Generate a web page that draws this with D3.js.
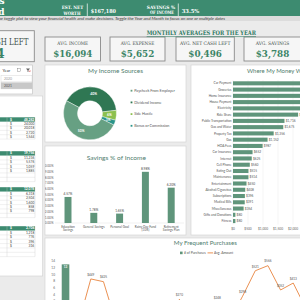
<!DOCTYPE html>
<html>
<head>
<meta charset="utf-8">
<script src="https://cdn.jsdelivr.net/npm/d3@7"></script>
<style>
  html, body { margin: 0; padding: 0; background: #ebebeb; overflow: hidden; }
  svg { display: block; }
</style>
</head>
<body>
<div id="chart"></div>
<script>
// ---- data ----
const kpiLabels = ["AVG. INCOME", "AVG. EXPENSE", "AVG. NET CASH LEFT", "AVG. SAVINGS"];
const kpiValues = ["$16,094", "$5,652", "$0,496", "$3,788"];

const yearOptions = ["2020", "2021"];

const tableRows = [
  [24000, 20018, 2720, 1544],
  [11236, 5576, 1059, 1885],
  [6318, 2504, 1600, 858, 798],
  [1218, 776, 396, 316]
];
const tableBlanks = [0, 2, 1, 2];

const incomeSources = ["Paycheck From Employer", "Dividend Income", "Side Hustle", "Bonus or Commission"];
const incomeShares = [50, 40, 6, 3];
const incomeColors = ["#67a083", "#2f7753", "#8cc04f", "#2b958a"];
const pieOrder = [1, 2, 3, 0];

const savingsGoals = ["Education Savings", "General Savings", "Personal Goal", "Rainy Day Fund (10%)", "Retirement Savings Plan"];
const savingsPct = [4.57, 1.78, 1.65, 8.98, 6.20];

const expenseCats = ["Car Payment", "Groceries", "Home Insurance", "House Payment", "Electricity", "Ride Share",
  "Public Transportation", "Gas and Water", "Property Tax", "Gas", "HOA Fees", "Car Insurance", "Internet",
  "Cell Phone", "Eating Out", "Maintenance", "Entertainment", "Alcohol/Cigarettes", "Subscriptions",
  "Medical Bills", "Miscellaneous", "Gifts and Donations", "Fitness"];
const expenseVals = [3200, 3000, 2800, 2600, 2400, 2170, 1716, 1675, 1356, 1152, 987, 652, 625,
  560, 515, 514, 450, 408, 396, 391, 354, 80, 80];

const purchaseItems = ["Coffee", "Lunch", "Amazon", "Target", "Uber", "Gas Station", "Pharmacy", "Bakery",
  "Books", "Clothing", "Movies", "Snacks", "Hardware", "Pet Store", "Electronics", "Furniture",
  "Travel", "Concerts", "Gifts", "Salon"];
const purchaseCounts = [13, 2, 1, 1, 2, 1, 1, 2, 1, 1, 1, 2, 1, 1, 1, 1, 1, 1, 1, 1];
const purchaseAvg = [62, 47, 449, 425, 62, 75, 85, 90, 70, 270, 80, 95, 248, 90, 298, 521, 566, 352, 413, 190];

// ---- setup ----
const W = 300, H = 300;
const teal = "#3d8b70", barGreen = "#5f957b", titleColor = "#4f7d6e";
const serif = "'DejaVu Serif', serif";

const svg = d3.select("#chart").append("svg")
  .attr("width", W).attr("height", H)
  .style("font-family", "Lato, 'Open Sans', sans-serif");

svg.append("rect").attr("width", W).attr("height", H).attr("fill", "#ebebeb");

function label(g, x, y, s, o = {}) {
  const t = g.append("text").attr("x", x).attr("y", y).text(s)
    .attr("font-size", o.size || 4)
    .attr("fill", o.color || "#555")
    .attr("text-anchor", o.anchor || "start");
  if (o.weight) t.attr("font-weight", o.weight);
  if (o.family) t.attr("font-family", o.family);
  if (o.style) t.attr("font-style", o.style);
  if (o.len) t.attr("textLength", o.len).attr("lengthAdjust", "spacingAndGlyphs");
  return t;
}

function panel(id, x, y, w, h) {
  svg.append("clipPath").attr("id", id)
    .append("rect").attr("x", x).attr("y", y).attr("width", w).attr("height", h);
  svg.append("rect").attr("x", x).attr("y", y).attr("width", w).attr("height", h)
    .attr("fill", "#fff").attr("stroke", "#cfcfcf").attr("stroke-width", 0.6);
  return svg.append("g").attr("clip-path", `url(#${id})`);
}

function wrap(s, max) {
  const lines = [];
  s.split(" ").forEach(w => {
    const last = lines[lines.length - 1];
    if (last && (last + " " + w).length <= max) lines[lines.length - 1] = last + " " + w;
    else lines.push(w);
  });
  return lines;
}

// ---- header ----
function drawHeader() {
  svg.append("rect").attr("width", W).attr("height", 16).attr("fill", teal);
  svg.append("rect").attr("y", 16).attr("width", W).attr("height", 5).attr("fill", "#dcdcdc");

  const white = { color: "#fff", weight: "bold", family: serif };
  label(svg, 4.5, 4, "Finances", { ...white, size: 9, anchor: "end" });
  label(svg, 4.5, 14.5, "Dashboard", { ...white, size: 9, anchor: "end" });

  label(svg, 72.5, 9, "EST. NET", { ...white, size: 4.6, anchor: "middle", len: 21.6 });
  label(svg, 72, 14.6, "WORTH", { ...white, size: 4.6, anchor: "middle", len: 17 });
  svg.append("line").attr("x1", 87.3).attr("x2", 87.3).attr("y1", 3.5).attr("y2", 16)
    .attr("stroke", "#fff").attr("stroke-width", 0.7);
  label(svg, 90.7, 12.6, "$167,180", { ...white, size: 5.5, len: 25.3 });

  label(svg, 161, 8.6, "SAVINGS %", { ...white, size: 4.6, anchor: "middle", len: 28.3 });
  label(svg, 162, 14.4, "OF INCOME", { ...white, size: 4.6, anchor: "middle", len: 24 });
  svg.append("line").attr("x1", 178.3).attr("x2", 178.3).attr("y1", 3.5).attr("y2", 16)
    .attr("stroke", "#fff").attr("stroke-width", 0.7);
  label(svg, 181.7, 12.6, "33.5%", { ...white, size: 5.5, len: 17.6 });

  label(svg, 225, 19.9,
    "Use the toggle plot to view your financial health and make decisions. Toggle the Year and Month to focus on one or multiple dates",
    { size: 3.6, color: "#333", style: "italic", anchor: "end", len: 236 });
}

// ---- KPI boxes ----
function drawKpis() {
  svg.append("rect").attr("x", -10).attr("y", 30.7).attr("width", 44.3).attr("height", 31)
    .attr("fill", "#f6f6f6").attr("stroke", "#8a8a8a").attr("stroke-width", 0.9);
  label(svg, 28.4, 45, "NET CASH LEFT", { size: 8.5, color: "#3e4f4a", family: serif, anchor: "end", len: 61 });
  label(svg, 4.6, 57.5, "$10,444", { size: 12, color: "#3c8567", weight: "bold", family: serif, anchor: "end" });

  const boxX = [45, 110, 176, 244];
  const boxW = [55.5, 55, 58.3, 57];
  kpiLabels.forEach((k, i) => {
    const cx = boxX[i] + boxW[i] / 2;
    svg.append("rect").attr("x", boxX[i]).attr("y", 37).attr("width", boxW[i]).attr("height", 24)
      .attr("fill", "#f6f6f6").attr("stroke", "#8a8a8a").attr("stroke-width", 0.9);
    label(svg, cx, 44.6, k, { size: 4.8, color: "#3e4f4a", family: serif, anchor: "middle", len: k.length * 2.8 });
    label(svg, cx, 56.6, kpiValues[i], { size: 9.5, color: "#3c8567", weight: "bold", family: serif,
      anchor: "middle", len: kpiValues[i].length * 5.6 });
  });

  label(svg, 146.7, 35.2, "MONTHLY AVERAGES FOR THE YEAR",
    { size: 6.2, color: "#2f7a62", weight: "bold", family: serif, len: 109.3 });
  svg.append("line").attr("x1", 146.7).attr("x2", 256).attr("y1", 36.6).attr("y2", 36.6)
    .attr("stroke", "#2f7a62").attr("stroke-width", 0.6);
}

// ---- left column: slicer and tables ----
function drawLeftColumn() {
  svg.append("rect").attr("x", -1).attr("y", 65).attr("width", 33.5).attr("height", 29)
    .attr("fill", "#fff").attr("stroke", "#bdbdbd").attr("stroke-width", 0.6);
  label(svg, 2.5, 71.6, "Year", { size: 4, color: "#333" });
  svg.append("rect").attr("x", 17.6).attr("y", 68.4).attr("width", 3).attr("height", 3)
    .attr("fill", "none").attr("stroke", "#777").attr("stroke-width", 0.4);
  svg.append("path").attr("d", "M26,68.5 L30,68.5 L28.4,70.6 L28.4,72 L27.6,72 L27.6,70.6 Z").attr("fill", "#666");
  svg.append("path").attr("d", "M29,70.4 L30.6,72 M30.6,70.4 L29,72").attr("stroke", "#d33").attr("stroke-width", 0.4);

  yearOptions.forEach((yr, i) => {
    const y = 75.7 + i * 7;
    svg.append("rect").attr("x", 1).attr("y", y).attr("width", 31).attr("height", 6.2)
      .attr("fill", i === 1 ? "#c8c8c8" : "#fff").attr("stroke", i === 1 ? "#c8c8c8" : "#d0d0d0").attr("stroke-width", 0.4);
    label(svg, 4, y + 4.4, yr, { size: 3.4, color: i === 1 ? "#555" : "#999" });
  });

  const tg = panel("leftClip", -1, 96, 43.7, 180);
  const tableTops = [117.3, 151.2, 187.2, 226.2];
  const rowH = 4.35;
  const fmt = d3.format(",");
  tableRows.forEach((rows, i) => {
    const y0 = tableTops[i];
    const n = rows.length + tableBlanks[i];
    tg.append("rect").attr("x", -1).attr("y", y0).attr("width", 36).attr("height", rowH).attr("fill", teal);
    label(tg, 10, y0 + rowH - 1.1, "$", { size: 3.3, color: "#fff", weight: "bold" });
    label(tg, 34.3, y0 + rowH - 1.1, fmt(d3.sum(rows)), { size: 3.3, color: "#fff", weight: "bold", anchor: "end" });
    d3.range(n).forEach(j => {
      const y = y0 + (j + 1) * rowH;
      tg.append("line").attr("x1", -1).attr("x2", 35).attr("y1", y + rowH).attr("y2", y + rowH)
        .attr("stroke", "#d4d4d4").attr("stroke-width", 0.35);
      if (j < rows.length) {
        label(tg, 10, y + rowH - 1.1, "$", { size: 3.3, color: "#444" });
        label(tg, 34.3, y + rowH - 1.1, fmt(rows[j]), { size: 3.3, color: "#444", anchor: "end" });
      }
    });
    [7, 35].forEach(x => tg.append("line").attr("x1", x).attr("x2", x)
      .attr("y1", y0).attr("y2", y0 + (n + 1) * rowH).attr("stroke", "#c8c8c8").attr("stroke-width", 0.35));
  });
}

// ---- income donut ----
function drawIncome() {
  const g = panel("incClip", 45, 65, 141, 77);
  label(g, 115.5, 73.2, "My Income Sources", { size: 6.3, color: titleColor, anchor: "middle", len: 55 });

  const arc = d3.arc().innerRadius(12.5).outerRadius(26.5);
  const a0 = -62 * Math.PI / 180;
  const pie = d3.pie().sort(null).value(i => incomeShares[i]).startAngle(a0).endAngle(a0 + 2 * Math.PI);
  const arcs = pie(pieOrder);
  const dg = g.append("g").attr("transform", "translate(90,113.3)");
  dg.selectAll("path").data(arcs).join("path")
    .attr("d", arc).attr("fill", d => incomeColors[d.data])
    .attr("stroke", "#fff").attr("stroke-width", 0.4);
  dg.selectAll("text").data(arcs).join("text")
    .attr("transform", d => `translate(${arc.centroid(d)})`)
    .attr("text-anchor", "middle").attr("dy", 1.2)
    .attr("font-size", 3.4).attr("font-weight", "bold").attr("fill", "#fff")
    .text(d => incomeShares[d.data] + "%");

  incomeSources.forEach((s, i) => {
    const y = 90.7 + i * 11.7;
    g.append("rect").attr("x", 130.6).attr("y", y - 0.9).attr("width", 1.8).attr("height", 1.8).attr("fill", incomeColors[i]);
    label(g, 134.2, y + 1.3, s, { size: 3.7, color: "#555" });
  });
}

// ---- savings bars ----
function drawSavings() {
  const g = panel("savClip", 45, 146, 141, 89);
  label(g, 116.3, 160, "Savings % of Income", { size: 6.3, color: titleColor, anchor: "middle", len: 59.3 });

  const x = d3.scaleBand().domain(savingsGoals).range([55.1, 184.1]).paddingInner(0.73).paddingOuter(0.365);
  const y = d3.scaleLinear().domain([0, 10]).range([223, 166]);

  y.ticks(10).forEach(t => label(g, 53.5, y(t) + 1.2, t.toFixed(2) + "%", { size: 3.2, color: "#666", anchor: "end" }));
  g.append("line").attr("x1", 55).attr("x2", 184).attr("y1", y(0)).attr("y2", y(0))
    .attr("stroke", "#d9d9d9").attr("stroke-width", 0.4);

  g.selectAll(".sbar").data(savingsGoals).join("rect").attr("class", "sbar")
    .attr("x", d => x(d)).attr("width", x.bandwidth())
    .attr("y", (d, i) => y(savingsPct[i])).attr("height", (d, i) => y(0) - y(savingsPct[i]))
    .attr("fill", barGreen);
  savingsGoals.forEach((s, i) => {
    const cx = x(s) + x.bandwidth() / 2;
    label(g, cx, y(savingsPct[i]) - 1.5, savingsPct[i].toFixed(2) + "%", { size: 3.2, color: "#444", anchor: "middle" });
    wrap(s, 15).forEach((ln, k) => label(g, cx, 227.6 + k * 3.8, ln, { size: 3.1, color: "#555", anchor: "middle" }));
  });
}

// ---- expenses horizontal bars ----
function drawExpenses() {
  const g = panel("expClip", 191, 65, 112, 170);
  label(g, 247, 73.2, "Where My Money Went", { size: 6.3, color: titleColor, len: 63 });

  const x = d3.scaleLinear().domain([0, 2000]).range([233, 293]);
  const y = d3.scaleBand().domain(expenseCats).range([80.2, 224.2]).paddingInner(0.35).paddingOuter(0.175);
  const money = d3.format("$,");

  x.ticks(4).forEach(t => {
    g.append("line").attr("x1", x(t)).attr("x2", x(t)).attr("y1", 80).attr("y2", 224.5)
      .attr("stroke", "#e2e2e2").attr("stroke-width", 0.4);
    label(g, x(t), 229.5, money(t), { size: 3.2, color: "#666", anchor: "middle" });
  });

  g.selectAll(".ebar").data(expenseCats).join("rect").attr("class", "ebar")
    .attr("x", x(0)).attr("y", d => y(d)).attr("height", y.bandwidth())
    .attr("width", (d, i) => x(expenseVals[i]) - x(0)).attr("fill", barGreen);
  expenseCats.forEach((c, i) => {
    const cy = y(c) + y.bandwidth() / 2 + 1.1;
    label(g, 231.5, cy, c, { size: 3.2, color: "#555", anchor: "end" });
    label(g, x(expenseVals[i]) + 1.2, cy, money(expenseVals[i]), { size: 3.2, color: "#555" });
  });
}

// ---- frequent purchases combo ----
function drawPurchases() {
  const g = panel("purClip", 45, 238, 262, 70);
  label(g, 205.3, 245.2, "My Frequent Purchases", { size: 6.3, color: titleColor, anchor: "middle", len: 63 });

  g.append("rect").attr("x", 180).attr("y", 251.6).attr("width", 2.6).attr("height", 2.6).attr("fill", barGreen);
  label(g, 184, 254, "# of Purchases", { size: 3.4, color: "#555" });
  g.append("line").attr("x1", 207.5).attr("x2", 213).attr("y1", 252.9).attr("y2", 252.9)
    .attr("stroke", "#e8843f").attr("stroke-width", 0.9);
  label(g, 214, 254, "Avg. Amount", { size: 3.4, color: "#555" });

  const x = d3.scaleBand().domain(purchaseItems)
    .range([59.2, 59.2 + purchaseItems.length * 12.65]).paddingInner(0.4).paddingOuter(0.2);
  const y = d3.scaleLinear().domain([0, 14]).range([308, 261]);
  const ya = d3.scaleLinear().domain([0, 600]).range([330, 330 - 600 * 0.1137]);
  const cx = d => x(d) + x.bandwidth() / 2;

  y.ticks(7).forEach(t => label(g, 55, y(t) + 1.2, t, { size: 3.2, color: "#666", anchor: "end" }));

  g.selectAll(".pbar").data(purchaseItems).join("rect").attr("class", "pbar")
    .attr("x", d => x(d)).attr("width", x.bandwidth())
    .attr("y", (d, i) => y(purchaseCounts[i])).attr("height", (d, i) => y(0) - y(purchaseCounts[i]))
    .attr("fill", barGreen);
  purchaseItems.forEach((d, i) => label(g, cx(d), y(purchaseCounts[i]) + 3.8, purchaseCounts[i],
    { size: 3, color: "#fff", weight: "bold", anchor: "middle" }));

  const line = d3.line().x(d => cx(d)).y((d, i) => ya(purchaseAvg[i]));
  g.append("path").datum(purchaseItems).attr("d", line)
    .attr("fill", "none").attr("stroke", "#e8843f").attr("stroke-width", 0.9);
  purchaseItems.forEach((d, i) => label(g, cx(d), ya(purchaseAvg[i]) - 3.2, "$" + purchaseAvg[i],
    { size: 3.1, color: "#555", anchor: "middle" }));
}

drawHeader();
drawKpis();
drawLeftColumn();
drawIncome();
drawSavings();
drawExpenses();
drawPurchases();
</script>
</body>
</html>
